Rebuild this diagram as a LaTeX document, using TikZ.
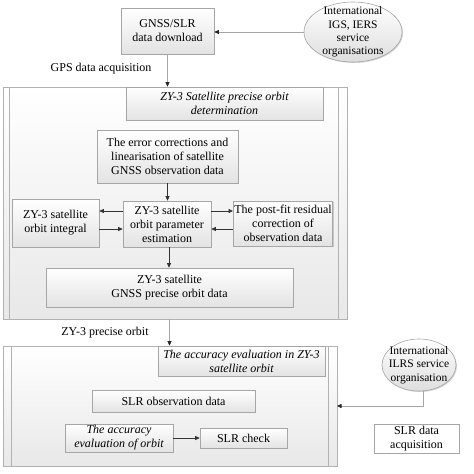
\documentclass[tikz,border=0pt]{standalone}
\usepackage{fontspec}
\setmainfont{Liberation Serif}
\usetikzlibrary{arrows.meta,shapes.geometric,shadows}
\begin{document}
\begin{tikzpicture}[x=1pt,y=-1pt,
  sz/.style 2 args={minimum width=#1pt, minimum height=#2pt},
  txt/.style={font=\fontsize{12}{14}\selectfont},
  box/.style={txt, draw=black!35, line width=0.6pt, top color=white, bottom color=black!11,
    align=center, inner sep=1pt,
    drop shadow={shadow xshift=1pt, shadow yshift=-1pt, opacity=0.35, fill=black!50}},
  ibox/.style={box, font=\fontsize{12}{14}\selectfont\itshape},
  plainbox/.style={txt, draw=black!35, line width=0.6pt, fill=white, align=center, inner sep=1pt},
  panel/.style={draw=black!30, line width=0.6pt, top color=white, bottom color=black!9, inner sep=0pt,
    drop shadow={shadow xshift=1pt, shadow yshift=-1pt, opacity=0.25, fill=black!50}},
  innerline/.style={draw=black!30, line width=0.6pt},
  oval/.style={ellipse, draw=black!35, line width=0.6pt, top color=white, bottom color=black!13, inner sep=0pt,
    drop shadow={shadow xshift=1pt, shadow yshift=-1pt, opacity=0.35, fill=black!50}},
  ovaltext/.style={font=\fontsize{11.5}{13.3}\selectfont, align=center, inner sep=0pt},
  lbl/.style={txt, inner sep=0pt},
  arr/.style={draw=black!80, line width=0.7pt, -{Triangle[length=4.5pt,width=4pt]}},
  garr/.style={draw=black!35, line width=0.7pt, -{Triangle[length=4.5pt,width=4pt,color=black!85]}}
]
\useasboundingbox (0,0) rectangle (474,474);

% panels
\node[panel, sz={344}{232}] (panel1) at (175,203) {};
\draw[innerline] ([xshift=7pt]panel1.north west) -- ([xshift=7pt]panel1.south west);
\draw[innerline] ([xshift=-9pt]panel1.north east) -- ([xshift=-9pt]panel1.south east);
\node[panel, sz={334}{120}] (panel2) at (170,406) {};
\draw[innerline] ([xshift=9pt]panel2.north west) -- ([xshift=9pt]panel2.south west);
\draw[innerline] ([xshift=-9pt]panel2.north east) -- ([xshift=-9pt]panel2.south east);

% top
\node[box, sz={93}{46}] (gnss) at (167.5,31) {GNSS/SLR\\data download};
\node[oval, sz={98}{60}, label={[ovaltext]center:International\\IGS, IERS\\service\\organisations}] (igs) at (353,32) {};
\node[lbl] (gpslbl) at (101,69) {GPS data acquisition};

% panel 1 content
\node[ibox, sz={197}{33}] (zyhead) at (224.5,103.5) {ZY-3 Satellite precise orbit\\determination};
\node[box, sz={141}{53}] (err) at (167.5,156.5) {The error corrections and\\linearisation of satellite\\GNSS observation data};
\node[box, sz={88}{46}] (param) at (167,224) {ZY-3 satellite\\orbit parameter\\estimation};
\node[box, sz={87}{48}] (integ) at (55.5,223) {ZY-3 satellite\\orbit integral};
\node[box, sz={96}{45}] (postfit) at (283,223.5) {The post-fit residual\\correction of\\observation data};
\node[box, sz={247}{39}] (precise) at (169.5,287.5) {ZY-3 satellite\\GNSS precise orbit data};

\node[lbl] (zylbl) at (105,333) {ZY-3 precise orbit};

% panel 2 content
\node[ibox, sz={167}{30}] (acc) at (241.5,361) {The accuracy evaluation in ZY-3\\satellite orbit};
\node[box, sz={163}{22}] (slrobs) at (173.5,401) {SLR observation data};
\node[ibox, sz={108}{28}] (accorb) at (119,438) {The accuracy\\evaluation of orbit};
\node[box, sz={87}{20}] (slrcheck) at (243.5,438) {SLR check};

\node[oval, sz={74}{52}, label={[ovaltext]center:International\\ILRS service\\organisation}] (ilrs) at (419,365) {};
\node[plainbox, sz={85}{29}] (slracq) at (416.5,438.5) {SLR data\\acquisition};
\coordinate (p2in) at (337,406);

% connectors
\draw[garr] (igs.west) -- (igs.west -| gnss.east);
\draw[garr] (gnss.south) -- (gnss.south |- panel1.north);
\draw[arr] (err.south) -- (err.south |- param.north);
\draw[arr] ([yshift=13pt]param.west) -- ([yshift=13pt]param.west -| integ.east);
\draw[arr] ([yshift=-5pt]integ.east |- param.center) -- ([yshift=-5pt]param.west);
\draw[arr] ([yshift=13pt]param.east) -- ([yshift=13pt]param.east -| postfit.west);
\draw[arr] ([yshift=-5pt]postfit.west |- param.center) -- ([yshift=-5pt]param.east);
\draw[arr] ([xshift=2pt]param.south) -- ([xshift=2pt]param.south |- precise.north);
\draw[garr] (precise.south |- panel1.south) -- (precise.south |- panel2.north);
\draw[arr] (accorb.east) -- (slrcheck.west);
\draw[garr] ([xshift=4pt]ilrs.south) |- (p2in);
\end{tikzpicture}
\end{document}
